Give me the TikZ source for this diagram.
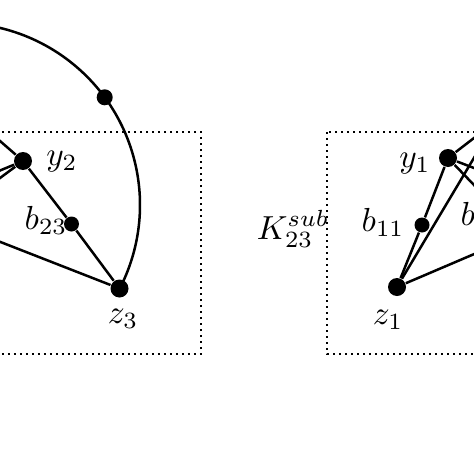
\documentclass[tikz,border=0pt]{standalone}
\begin{document}
\begin{tikzpicture}[x=0.3pt,y=0.3pt,yscale=-1,
  bigdot/.style={circle,fill=black,inner sep=0pt,minimum size=5.4pt},
  smalldot/.style={circle,fill=black,inner sep=0pt,minimum size=4.5pt},
  arcdot/.style={circle,fill=black,inner sep=0pt,minimum size=4.8pt},
  edge/.style={line width=0.75pt},
  subbox/.style={line width=0.7pt,dash pattern=on 0.7pt off 1.1pt},
  lab/.style={inner sep=0pt,font=\normalsize}]
\useasboundingbox (0,0) rectangle (474,474);
\clip (0,0) rectangle (474,474);
% boxes
\draw[subbox] (-10,132) rectangle (201,354);
\draw[subbox] (327,132) rectangle (500,354);
% left part nodes
\node[bigdot] (y2) at (23,161) {};
\node[smalldot] (b23) at (71.5,224) {};
\node[bigdot] (z3) at (119.5,288.5) {};
\node[arcdot] (a) at (104.7,97.3) {};
\coordinate (arcs) at (-73.6,25.8);
\coordinate (l1) at (-46,101);
\coordinate (l2) at (-23,180);
\coordinate (l3) at (-23,195);
\coordinate (l4) at (-20,234);
% right part nodes
\node[bigdot] (y1) at (448,158) {};
\node[smalldot] (b11) at (422,225) {};
\node[bigdot] (z1) at (397,287) {};
\coordinate (r1) at (500,118);
\coordinate (r2) at (500,178);
\coordinate (r3) at (500,212);
\coordinate (r4) at (490,131);
\coordinate (r5) at (500,243);
% edges left
\draw[edge] (arcs) arc[start angle=-100,end angle=27.4,radius=182];
\draw[edge] (l1) -- (y2);
\draw[edge] (y2) -- (l2);
\draw[edge] (y2) -- (l3);
\draw[edge] (y2) -- (b23) -- (z3);
\draw[edge] (l4) -- (z3);
% edges right
\draw[edge] (y1) -- (r1);
\draw[edge] (y1) -- (r2);
\draw[edge] (y1) -- (r3);
\draw[edge] (y1) -- (b11) -- (z1);
\draw[edge] (z1) -- (r4);
\draw[edge] (z1) -- (r5);
% labels
\node[lab] (ly2) at (62,162) {$y_2$};
\node[lab] (lb23) at (46,220) {$b_{23}$};
\node[lab] (lz3) at (123,319) {$z_3$};
\node[lab] (ly1) at (415,164) {$y_1$};
\node[lab] (lb11) at (383,222) {$b_{11}$};
\node[lab] (lz1) at (388,320) {$z_1$};
\node[lab,anchor=base west] (lb12) at (460,225) {$b_{12}$};
\node[lab] (lk) at (293,229) {$K^{sub}_{23}$};
\end{tikzpicture}
\end{document}
